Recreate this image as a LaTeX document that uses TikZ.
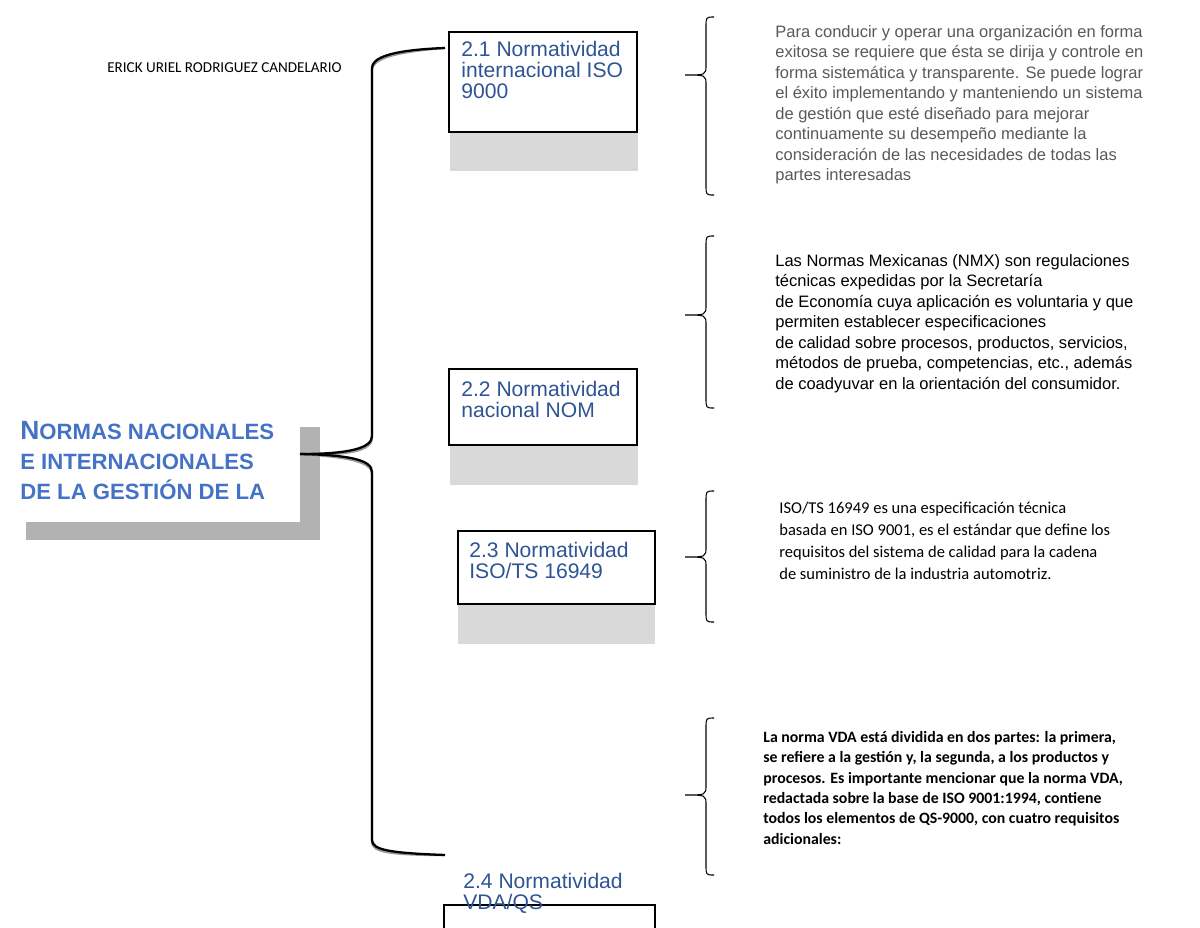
\documentclass[tikz,border=0pt]{standalone}
\usepackage{fontspec}
\setmainfont{Liberation Sans}
\newfontfamily\carl{Carlito}
\definecolor{titleblue}{HTML}{4472C4}
\definecolor{boxblue}{HTML}{2F5496}
\begin{document}
\begin{tikzpicture}[x=0.02cm,y=-0.02cm,
  box/.style={draw=black,line width=1.2pt,fill=white},
  shadow/.style={fill=black!15,draw=none},
  btext/.style={anchor=north west,align=left,text=boxblue,font=\fontsize{12}{12}\selectfont,inner sep=0pt},
  para/.style={anchor=north west,align=left,inner sep=0pt},
  brc/.style={draw=black,line width=0.6pt},
  big/.style={draw=black,line width=1.3pt}]
\useasboundingbox (0,0) rectangle (1200,927);
% author
\node[para,font=\carl\fontsize{8.6}{9}\selectfont] (author) at (107,62) {ERICK URIEL RODRIGUEZ CANDELARIO};
% title L shape
\fill[black!30] (300,427) rectangle (320,540);
\fill[black!30] (26,522) rectangle (320,540);
\node[para,font=\bfseries\fontsize{12.6}{17}\selectfont,text=titleblue] (title) at (20,421)
 {{\fontsize{15}{17}\selectfont N}ORMAS NACIONALES\\E INTERNACIONALES\\DE LA GESTIÓN DE LA};
\coordinate (root) at (300,454);
% boxes
\fill[shadow] (450,132) rectangle (638,171);
\draw[box] (449,32) rectangle (637,132);
\node[btext] (b1) at (461,41) {2.1 Normatividad\\internacional ISO\\9000};
\fill[shadow] (450,445) rectangle (638,485);
\draw[box] (449,369) rectangle (637,445);
\node[btext] (b2) at (461,381) {2.2 Normatividad\\nacional NOM};
\fill[shadow] (458,604) rectangle (655,644);
\draw[box] (458,531) rectangle (655,604);
\node[btext] (b3) at (469,542) {2.3 Normatividad\\ISO/TS 16949};
\draw[box] (444,905) rectangle (655,940);
\node[btext] (b4) at (463,873) {2.4 Normatividad\\VDA/QS};
% big brace
\coordinate (t1) at (445,48);
\coordinate (t4) at (445,855);
\foreach \c/\w/\s in {black!40/1.3pt/-0.04cm, black/1.3pt/0cm}{
\draw[draw=\c,line width=\w,yshift=\s] (root) .. controls (350,454) and (372,448) .. (372,436) -- (372,68) .. controls (372,58) and (390,50) .. (t1);
\draw[draw=\c,line width=\w,yshift=\s] (root) .. controls (350,455) and (372,460) .. (372,472) -- (372,840) .. controls (372,850) and (390,853) .. (t4);
}
% right braces
\foreach \t/\m/\b in {17/75/195, 236/315/408, 491/557/622, 718/795/875}{
 \draw[brc] (714,\t) .. controls (706,\t) .. (706,\t+10) -- (706,\m-10) .. controls (706,\m) .. (685,\m) .. controls (706,\m) .. (706,\m+10) -- (706,\b-10) .. controls (706,\b) .. (714,\b);
}
% paragraphs
\node[para,text=black!65,font=\fontsize{9.4}{11.65}\selectfont] (p1) at (775,25)
{Para conducir y operar una organización en forma\\exitosa se requiere que ésta se dirija y controle en\\forma sistemática y transparente. Se puede lograr\\el éxito implementando y manteniendo un sistema\\de gestión que esté diseñado para mejorar\\continuamente su desempeño mediante la\\consideración de las necesidades de todas las\\partes interesadas};
\node[para,text=black,font=\fontsize{9.4}{11.65}\selectfont] (p2) at (775,254)
{Las Normas Mexicanas (NMX) son regulaciones\\técnicas expedidas por la Secretaría\\de Economía cuya aplicación es voluntaria y que\\permiten establecer especificaciones\\de calidad sobre procesos, productos, servicios,\\métodos de prueba, competencias, etc., además\\de coadyuvar en la orientación del consumidor.};
\node[para,text=black,font=\carl\fontsize{9.4}{12.4}\selectfont] (p3) at (779,502)
{ISO/TS 16949 es una especificación técnica\\basada en ISO 9001, es el estándar que define los\\requisitos del sistema de calidad para la cadena\\de suministro de la industria automotriz.};
\node[para,text=black,font=\carl\bfseries\fontsize{9}{11.6}\selectfont] (p4) at (763,731)
{La norma VDA está dividida en dos partes: la primera,\\se refiere a la gestión y, la segunda, a los productos y\\procesos. Es importante mencionar que la norma VDA,\\redactada sobre la base de ISO 9001:1994, contiene\\todos los elementos de QS-9000, con cuatro requisitos\\adicionales:};
\end{tikzpicture}
\end{document}
